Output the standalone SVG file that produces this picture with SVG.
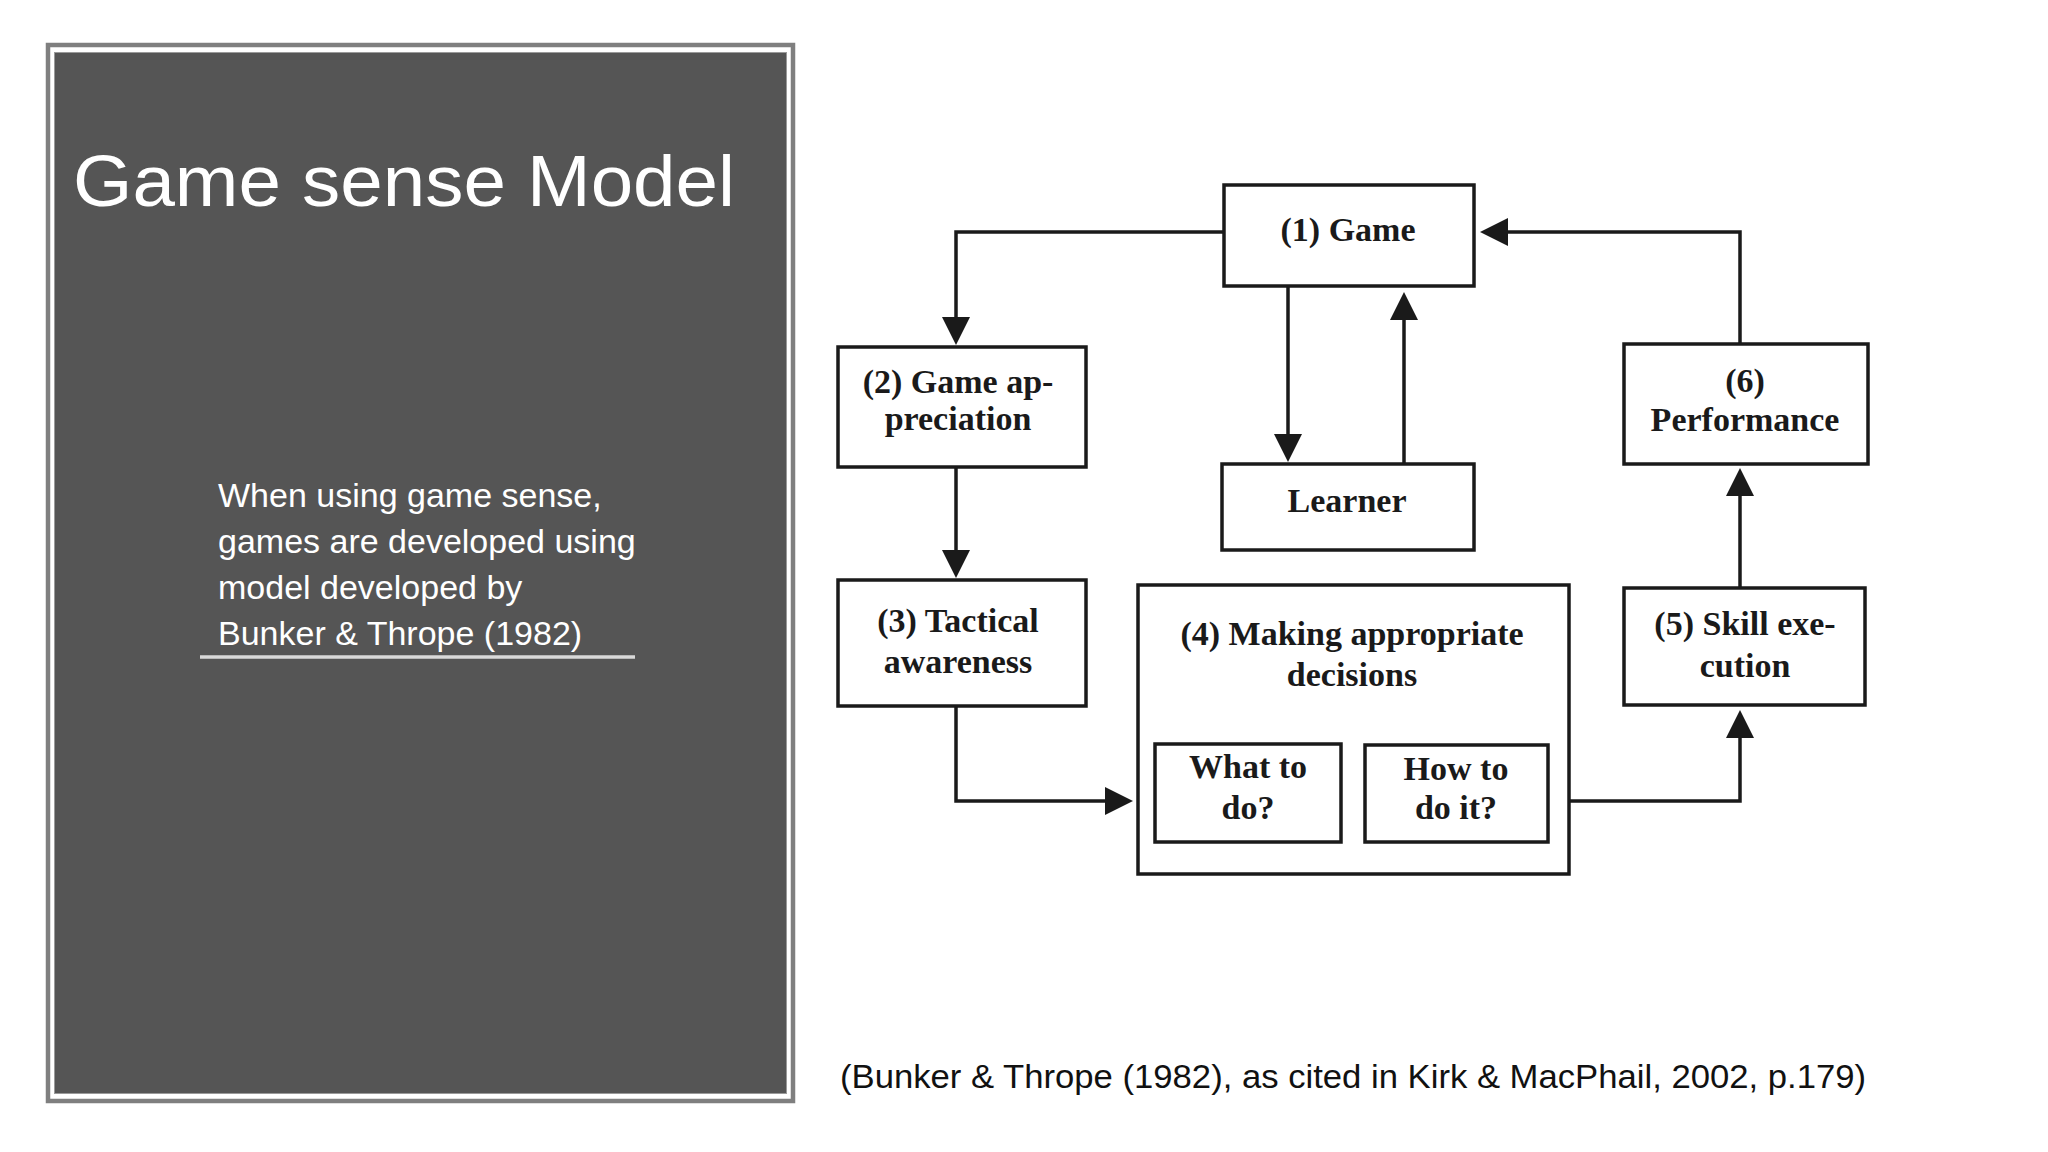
<svg xmlns="http://www.w3.org/2000/svg" width="2048" height="1152" viewBox="0 0 2048 1152">
<style>
.sans{font-family:"Liberation Sans",Arial,sans-serif}
.lbl{font-family:"Liberation Serif","Times New Roman",serif;font-weight:bold;font-size:34px;fill:#1a1a1a;text-anchor:middle}
.box{fill:#ffffff;stroke:#1a1a1a;stroke-width:3.5}
.con{fill:none;stroke:#1a1a1a;stroke-width:3.5}
</style>
<defs>
<marker id="arr" markerUnits="userSpaceOnUse" viewBox="0 0 28 28" markerWidth="28" markerHeight="28" refX="18" refY="14" orient="auto">
<path d="M0,0 L28,14 L0,28 z" fill="#1a1a1a"/>
</marker>
</defs>
<rect width="2048" height="1152" fill="#ffffff"/>
<g id="panel">
<rect x="48" y="45" width="745" height="1056" fill="#ffffff" stroke="#7f7f7f" stroke-width="4.5"/>
<rect x="54.5" y="52.5" width="732" height="1041" fill="#555555" stroke="#9a9a9a" stroke-width="1"/>
<text class="sans" x="73" y="206" font-size="73" fill="#ffffff" textLength="662" lengthAdjust="spacingAndGlyphs">Game sense Model</text>
<text class="sans" font-size="34" fill="#ffffff">
<tspan x="218" y="507">When using game sense,</tspan>
<tspan x="218" y="553">games are developed using</tspan>
<tspan x="218" y="599">model developed by</tspan>
<tspan x="218" y="645">Bunker &amp; Thrope (1982)</tspan>
</text>
<line x1="200" y1="657" x2="635" y2="657" stroke="#d9d9d9" stroke-width="3.5"/>
</g>
<g id="connectors">
<path class="con" d="M1223,232 H956 V335" marker-end="url(#arr)"/>
<path class="con" d="M956,468 V568" marker-end="url(#arr)"/>
<path class="con" d="M1288,287 V452" marker-end="url(#arr)"/>
<path class="con" d="M1404,463 V302" marker-end="url(#arr)"/>
<path class="con" d="M956,706 V801 H1123" marker-end="url(#arr)"/>
<path class="con" d="M1569,801 H1740 V720" marker-end="url(#arr)"/>
<path class="con" d="M1740,587 V478" marker-end="url(#arr)"/>
<path class="con" d="M1740,343 V232 H1490" marker-end="url(#arr)"/>
</g>
<g id="n1">
<rect class="box" x="1224" y="185" width="250" height="101"/>
<text class="lbl" x="1348" y="241">(1) Game</text>
</g>
<g id="n2">
<rect class="box" x="838" y="347" width="248" height="120"/>
<text class="lbl"><tspan x="958" y="393">(2) Game ap-</tspan><tspan x="958" y="430">preciation</tspan></text>
</g>
<g id="learner">
<rect class="box" x="1222" y="464" width="252" height="86"/>
<text class="lbl" x="1347" y="512">Learner</text>
</g>
<g id="n6">
<rect class="box" x="1624" y="344" width="244" height="120"/>
<text class="lbl"><tspan x="1745" y="392">(6)</tspan><tspan x="1745" y="431">Performance</tspan></text>
</g>
<g id="n3">
<rect class="box" x="838" y="580" width="248" height="126"/>
<text class="lbl"><tspan x="958" y="632">(3) Tactical</tspan><tspan x="958" y="673">awareness</tspan></text>
</g>
<g id="n4">
<rect class="box" x="1138" y="585" width="431" height="289"/>
<text class="lbl"><tspan x="1352" y="645">(4) Making appropriate</tspan><tspan x="1352" y="686">decisions</tspan></text>
<g id="n4a">
<rect class="box" x="1155" y="744" width="186" height="98"/>
<text class="lbl"><tspan x="1248" y="778">What to</tspan><tspan x="1248" y="819">do?</tspan></text>
</g>
<g id="n4b">
<rect class="box" x="1365" y="745" width="183" height="97"/>
<text class="lbl"><tspan x="1456" y="780">How to</tspan><tspan x="1456" y="819">do it?</tspan></text>
</g>
</g>
<g id="n5">
<rect class="box" x="1624" y="588" width="241" height="117"/>
<text class="lbl"><tspan x="1745" y="635">(5) Skill exe-</tspan><tspan x="1745" y="677">cution</tspan></text>
</g>
<text class="sans" x="840" y="1088" font-size="34" fill="#111111" textLength="1026" lengthAdjust="spacingAndGlyphs">(Bunker &amp; Thrope (1982), as cited in Kirk &amp; MacPhail, 2002, p.179)</text>
</svg>
